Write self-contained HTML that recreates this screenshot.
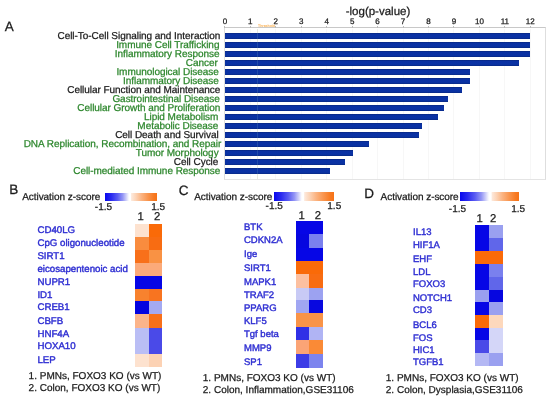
<!DOCTYPE html>
<html><head><meta charset="utf-8"><style>
*{margin:0;padding:0;box-sizing:border-box}
html,body{width:550px;height:400px;background:#fff;overflow:hidden;position:relative}
body{text-rendering:geometricPrecision;font-family:"Liberation Sans",Arial,sans-serif;color:#1a1a1a}
.t{position:absolute;white-space:nowrap;line-height:1;-webkit-text-stroke:0.25px}
.tick{position:absolute;top:25.8px;width:1px;height:2px;background:#bbb}
.box{position:absolute;left:224.3px;top:27px;width:321.6px;height:152.8px;border:1px solid #dedede;border-top:1.5px solid #c8c8c8;border-bottom:1px solid #e4e4e4}
.grid{position:absolute;top:28.5px;height:150.5px;width:1px;background:#f7f7f7}
.thr{position:absolute;top:28.5px;height:150.5px;width:1px;background:#fcf3e6}
.bar{position:absolute;left:224.90px;height:6.35px;background:linear-gradient(#082780 0%,#0a31a3 22%,#0a32a4 72%,#082985 100%)}
.lbl{position:absolute;font-size:10px;line-height:10px;white-space:nowrap;letter-spacing:-0.045px;-webkit-text-stroke:0.25px}
.cb{position:absolute}
.cell{position:absolute}
.gl{color:#2e2ed2;-webkit-text-stroke:0.4px}
</style></head><body>
<div class="box"></div>
<div class="t" style="left:4.80px;top:20.00px;font-size:13.5px;">A</div>
<div class="t" style="left:378.00px;top:7.00px;font-size:11.5px;transform:translateX(-50%);">-log(p-value)</div>
<div class="t" style="left:224.90px;top:18.00px;font-size:8px;transform:translateX(-50%);">0</div>
<div class="tick" style="left:224.40px"></div>
<div class="t" style="left:250.35px;top:18.00px;font-size:8px;transform:translateX(-50%);">1</div>
<div class="tick" style="left:249.85px"></div>
<div class="t" style="left:275.80px;top:18.00px;font-size:8px;transform:translateX(-50%);">2</div>
<div class="tick" style="left:275.30px"></div>
<div class="t" style="left:301.25px;top:18.00px;font-size:8px;transform:translateX(-50%);">3</div>
<div class="tick" style="left:300.75px"></div>
<div class="t" style="left:326.70px;top:18.00px;font-size:8px;transform:translateX(-50%);">4</div>
<div class="tick" style="left:326.20px"></div>
<div class="t" style="left:352.15px;top:18.00px;font-size:8px;transform:translateX(-50%);">5</div>
<div class="tick" style="left:351.65px"></div>
<div class="t" style="left:377.60px;top:18.00px;font-size:8px;transform:translateX(-50%);">6</div>
<div class="tick" style="left:377.10px"></div>
<div class="t" style="left:403.05px;top:18.00px;font-size:8px;transform:translateX(-50%);">7</div>
<div class="tick" style="left:402.55px"></div>
<div class="t" style="left:428.50px;top:18.00px;font-size:8px;transform:translateX(-50%);">8</div>
<div class="tick" style="left:428.00px"></div>
<div class="t" style="left:453.95px;top:18.00px;font-size:8px;transform:translateX(-50%);">9</div>
<div class="tick" style="left:453.45px"></div>
<div class="t" style="left:479.40px;top:18.00px;font-size:8px;transform:translateX(-50%);">10</div>
<div class="tick" style="left:478.90px"></div>
<div class="t" style="left:504.85px;top:18.00px;font-size:8px;transform:translateX(-50%);">11</div>
<div class="tick" style="left:504.35px"></div>
<div class="t" style="left:530.30px;top:18.00px;font-size:8px;transform:translateX(-50%);">12</div>
<div class="tick" style="left:529.80px"></div>
<div class="grid" style="left:249.85px"></div>
<div class="grid" style="left:275.30px"></div>
<div class="grid" style="left:300.75px"></div>
<div class="grid" style="left:326.20px"></div>
<div class="grid" style="left:351.65px"></div>
<div class="grid" style="left:377.10px"></div>
<div class="grid" style="left:402.55px"></div>
<div class="grid" style="left:428.00px"></div>
<div class="grid" style="left:453.45px"></div>
<div class="grid" style="left:478.90px"></div>
<div class="grid" style="left:504.35px"></div>
<div class="grid" style="left:529.80px"></div>
<div class="thr" style="left:257.49px"></div>
<div class="t" style="left:258.29px;top:23.9px;font-size:7px;font-weight:bold;color:#f9c078;transform:scale(0.5);transform-origin:0 0">Threshold</div>
<div class="bar" style="top:32.70px;width:305.15px"></div>
<div class="lbl" style="top:32.00px;right:329.70px;color:#1a1a1a">Cell-To-Cell Signaling and Interaction</div>
<div class="bar" style="top:41.70px;width:305.15px"></div>
<div class="lbl" style="top:41.00px;right:330.60px;color:#2c862c">Immune Cell Trafficking</div>
<div class="bar" style="top:50.70px;width:305.15px"></div>
<div class="lbl" style="top:50.00px;right:330.60px;color:#2c862c">Inflammatory Response</div>
<div class="bar" style="top:59.70px;width:294.46px"></div>
<div class="lbl" style="top:59.00px;right:332.20px;color:#2c862c">Cancer</div>
<div class="bar" style="top:68.70px;width:245.08px"></div>
<div class="lbl" style="top:68.00px;right:331.20px;color:#2c862c">Immunological Disease</div>
<div class="bar" style="top:77.70px;width:245.08px"></div>
<div class="lbl" style="top:77.00px;right:331.20px;color:#2c862c">Inflammatory Disease</div>
<div class="bar" style="top:86.70px;width:236.94px"></div>
<div class="lbl" style="top:86.00px;right:329.70px;color:#1a1a1a">Cellular Function and Maintenance</div>
<div class="bar" style="top:95.70px;width:222.69px"></div>
<div class="lbl" style="top:95.00px;right:330.30px;color:#2c862c">Gastrointestinal Disease</div>
<div class="bar" style="top:104.70px;width:218.87px"></div>
<div class="lbl" style="top:104.00px;right:329.70px;color:#2c862c">Cellular Growth and Proliferation</div>
<div class="bar" style="top:113.70px;width:213.27px"></div>
<div class="lbl" style="top:113.00px;right:331.70px;color:#2c862c">Lipid Metabolism</div>
<div class="bar" style="top:122.70px;width:196.98px"></div>
<div class="lbl" style="top:122.00px;right:331.70px;color:#2c862c">Metabolic Disease</div>
<div class="bar" style="top:131.70px;width:193.67px"></div>
<div class="lbl" style="top:131.00px;right:331.40px;color:#1a1a1a">Cell Death and Survival</div>
<div class="bar" style="top:140.70px;width:143.79px"></div>
<div class="lbl" style="top:140.00px;right:328.70px;color:#2c862c">DNA Replication, Recombination, and Repair</div>
<div class="bar" style="top:149.70px;width:127.76px"></div>
<div class="lbl" style="top:149.00px;right:331.40px;color:#2c862c">Tumor Morphology</div>
<div class="bar" style="top:158.70px;width:120.12px"></div>
<div class="lbl" style="top:158.00px;right:331.70px;color:#1a1a1a">Cell Cycle</div>
<div class="bar" style="top:167.70px;width:105.11px"></div>
<div class="lbl" style="top:167.00px;right:329.70px;color:#2c862c">Cell-mediated Immune Response</div>
<div class="thr" style="left:257.49px;background:rgba(140,190,200,0.18)"></div>
<div class="t" style="left:9.30px;top:183.00px;font-size:13.5px;">B</div>
<div class="t" style="left:22.20px;top:193.00px;font-size:10px;letter-spacing:-0.05px;">Activation z-score</div>
<div class="cb" style="left:105px;top:192.5px;width:52px;height:8.2px;background:linear-gradient(to right,#0808ee 0.0%,#2a2af0 12.0%,#5a5cf2 24.0%,#9496f5 34.0%,#cfd0f9 41.0%,#f4f4fd 45.0%,#fff 46.5%,#fff 50.0%,#fde9dc 51.0%,#fcd2b4 60.0%,#fbb482 70.0%,#f99650 82.0%,#f77a22 94.0%,#f77216 100.0%)"></div>
<div class="t" style="left:94.80px;top:203.00px;font-size:10px;">-1.5</div>
<div class="t" style="left:151.20px;top:203.00px;font-size:10px;">1.5</div>
<div class="t" style="left:140.55px;top:212.00px;font-size:11.3px;transform:translateX(-50%);">1</div>
<div class="t" style="left:157.05px;top:212.00px;font-size:11.3px;transform:translateX(-50%);">2</div>
<div class="cell" style="left:135.1px;top:223.60px;width:13.7px;height:13.30px;background:#fde2cf"></div>
<div class="cell" style="left:148.79999999999998px;top:223.60px;width:13.7px;height:13.30px;background:#fa6a08"></div>
<div class="t gl" style="left:37.40px;top:226.00px;font-size:9.7px;">CD40LG</div>
<div class="cell" style="left:135.1px;top:236.60px;width:13.7px;height:13.30px;background:#f98c3e"></div>
<div class="cell" style="left:148.79999999999998px;top:236.60px;width:13.7px;height:13.30px;background:#f86c12"></div>
<div class="t gl" style="left:37.40px;top:239.00px;font-size:9.7px;">CpG oligonucleotide</div>
<div class="cell" style="left:135.1px;top:249.60px;width:13.7px;height:13.30px;background:#f8701a"></div>
<div class="cell" style="left:148.79999999999998px;top:249.60px;width:13.7px;height:13.30px;background:#f99244"></div>
<div class="t gl" style="left:37.40px;top:252.00px;font-size:9.7px;">SIRT1</div>
<div class="cell" style="left:135.1px;top:262.60px;width:13.7px;height:13.30px;background:#fbaa7a"></div>
<div class="cell" style="left:148.79999999999998px;top:262.60px;width:13.7px;height:13.30px;background:#fbaa7a"></div>
<div class="t gl" style="left:37.40px;top:265.00px;font-size:9.7px;">eicosapentenoic acid</div>
<div class="cell" style="left:135.1px;top:275.60px;width:13.7px;height:13.30px;background:#0606e6"></div>
<div class="cell" style="left:148.79999999999998px;top:275.60px;width:13.7px;height:13.30px;background:#0606e6"></div>
<div class="t gl" style="left:37.40px;top:278.00px;font-size:9.7px;">NUPR1</div>
<div class="cell" style="left:135.1px;top:288.60px;width:13.7px;height:12.40px;background:#f8822e"></div>
<div class="cell" style="left:148.79999999999998px;top:288.60px;width:13.7px;height:12.40px;background:#f87420"></div>
<div class="t gl" style="left:37.40px;top:291.00px;font-size:9.7px;">ID1</div>
<div class="cell" style="left:135.1px;top:300.70px;width:13.7px;height:13.80px;background:#0404e0"></div>
<div class="cell" style="left:148.79999999999998px;top:300.70px;width:13.7px;height:13.80px;background:#a4aaf2"></div>
<div class="t gl" style="left:37.40px;top:303.00px;font-size:9.7px;">CREB1</div>
<div class="cell" style="left:135.1px;top:314.20px;width:13.7px;height:13.80px;background:#fbb48a"></div>
<div class="cell" style="left:148.79999999999998px;top:314.20px;width:13.7px;height:13.80px;background:#f8701a"></div>
<div class="t gl" style="left:37.40px;top:317.00px;font-size:9.7px;">CBFB</div>
<div class="cell" style="left:135.1px;top:327.70px;width:13.7px;height:13.40px;background:#babef5"></div>
<div class="cell" style="left:148.79999999999998px;top:327.70px;width:13.7px;height:13.40px;background:#4a4ae8"></div>
<div class="t gl" style="left:37.40px;top:330.00px;font-size:9.7px;">HNF4A</div>
<div class="cell" style="left:135.1px;top:340.80px;width:13.7px;height:13.40px;background:#babef5"></div>
<div class="cell" style="left:148.79999999999998px;top:340.80px;width:13.7px;height:13.40px;background:#4a4ae8"></div>
<div class="t gl" style="left:37.40px;top:342.00px;font-size:9.7px;">HOXA10</div>
<div class="cell" style="left:135.1px;top:353.90px;width:13.7px;height:13.10px;background:#fde2cf"></div>
<div class="cell" style="left:148.79999999999998px;top:353.90px;width:13.7px;height:13.10px;background:#fcd2b4"></div>
<div class="t gl" style="left:37.40px;top:356.00px;font-size:9.7px;">LEP</div>
<div class="t" style="left:28.60px;top:372.00px;font-size:10px;">1. PMNs, FOXO3 KO (vs WT)</div>
<div class="t" style="left:28.60px;top:384.00px;font-size:10px;">2. Colon, FOXO3 KO (vs WT)</div>
<div class="t" style="left:178.80px;top:184.00px;font-size:13.5px;">C</div>
<div class="t" style="left:194.20px;top:193.00px;font-size:10px;letter-spacing:-0.05px;">Activation z-score</div>
<div class="cb" style="left:273.8px;top:192px;width:60.7px;height:8.8px;background:linear-gradient(to right,#0808ee 0.0%,#2a2af0 12.0%,#5a5cf2 24.0%,#9496f5 34.0%,#cfd0f9 41.0%,#f4f4fd 45.0%,#fff 46.5%,#fff 50.0%,#fde9dc 51.0%,#fcd2b4 60.0%,#fbb482 70.0%,#f99650 82.0%,#f77a22 94.0%,#f77216 100.0%)"></div>
<div class="t" style="left:265.60px;top:202.00px;font-size:10px;">-1.5</div>
<div class="t" style="left:327.30px;top:202.00px;font-size:10px;">1.5</div>
<div class="t" style="left:301.55px;top:211.00px;font-size:11.3px;transform:translateX(-50%);">1</div>
<div class="t" style="left:317.95px;top:211.00px;font-size:11.3px;transform:translateX(-50%);">2</div>
<div class="cell" style="left:295.5px;top:221.30px;width:13.5px;height:13.20px;background:#0606e6"></div>
<div class="cell" style="left:309.0px;top:221.30px;width:13.5px;height:13.20px;background:#0606e6"></div>
<div class="t gl" style="left:244.00px;top:223.00px;font-size:9.5px;">BTK</div>
<div class="cell" style="left:295.5px;top:234.20px;width:13.5px;height:13.60px;background:#0606e0"></div>
<div class="cell" style="left:309.0px;top:234.20px;width:13.5px;height:13.60px;background:#7a80ee"></div>
<div class="t gl" style="left:244.00px;top:236.00px;font-size:9.5px;">CDKN2A</div>
<div class="cell" style="left:295.5px;top:247.50px;width:13.5px;height:13.60px;background:#0606e6"></div>
<div class="cell" style="left:309.0px;top:247.50px;width:13.5px;height:13.60px;background:#0606e6"></div>
<div class="t gl" style="left:244.00px;top:250.00px;font-size:9.5px;">Ige</div>
<div class="cell" style="left:295.5px;top:260.80px;width:13.5px;height:13.70px;background:#fa6a08"></div>
<div class="cell" style="left:309.0px;top:260.80px;width:13.5px;height:13.70px;background:#fa6a08"></div>
<div class="t gl" style="left:244.00px;top:264.00px;font-size:9.5px;">SIRT1</div>
<div class="cell" style="left:295.5px;top:274.20px;width:13.5px;height:13.60px;background:#fcc0a0"></div>
<div class="cell" style="left:309.0px;top:274.20px;width:13.5px;height:13.60px;background:#f86c12"></div>
<div class="t gl" style="left:244.00px;top:278.00px;font-size:9.5px;">MAPK1</div>
<div class="cell" style="left:295.5px;top:287.50px;width:13.5px;height:13.10px;background:#c8caf5"></div>
<div class="cell" style="left:309.0px;top:287.50px;width:13.5px;height:13.10px;background:#9ca2f1"></div>
<div class="t gl" style="left:244.00px;top:291.00px;font-size:9.5px;">TRAF2</div>
<div class="cell" style="left:295.5px;top:300.30px;width:13.5px;height:13.30px;background:#a0a6f2"></div>
<div class="cell" style="left:309.0px;top:300.30px;width:13.5px;height:13.30px;background:#0808e0"></div>
<div class="t gl" style="left:244.00px;top:304.00px;font-size:9.5px;">PPARG</div>
<div class="cell" style="left:295.5px;top:313.30px;width:13.5px;height:13.80px;background:#f99448"></div>
<div class="cell" style="left:309.0px;top:313.30px;width:13.5px;height:13.80px;background:#f99448"></div>
<div class="t gl" style="left:244.00px;top:317.00px;font-size:9.5px;">KLF5</div>
<div class="cell" style="left:295.5px;top:326.80px;width:13.5px;height:13.80px;background:#3030e6"></div>
<div class="cell" style="left:309.0px;top:326.80px;width:13.5px;height:13.80px;background:#b0b4f4"></div>
<div class="t gl" style="left:244.00px;top:330.00px;font-size:9.5px;">Tgf beta</div>
<div class="cell" style="left:295.5px;top:340.30px;width:13.5px;height:13.80px;background:#fba476"></div>
<div class="cell" style="left:309.0px;top:340.30px;width:13.5px;height:13.80px;background:#fa8a36"></div>
<div class="t gl" style="left:244.00px;top:344.00px;font-size:9.5px;">MMP9</div>
<div class="cell" style="left:295.5px;top:353.80px;width:13.5px;height:13.80px;background:#3c3ce6"></div>
<div class="cell" style="left:309.0px;top:353.80px;width:13.5px;height:13.80px;background:#7c84ee"></div>
<div class="t gl" style="left:244.00px;top:358.00px;font-size:9.5px;">SP1</div>
<div class="t" style="left:202.80px;top:374.00px;font-size:10px;">1. PMNs, FOXO3 KO (vs WT)</div>
<div class="t" style="left:202.80px;top:386.00px;font-size:10px;">2. Colon, Inflammation,GSE31106</div>
<div class="t" style="left:364.20px;top:187.00px;font-size:13.5px;">D</div>
<div class="t" style="left:380.60px;top:193.00px;font-size:10px;letter-spacing:-0.05px;">Activation z-score</div>
<div class="cb" style="left:460.2px;top:192px;width:59.2px;height:8.6px;background:linear-gradient(to right,#0808ee 0.0%,#2a2af0 12.8%,#5a5cf2 25.5%,#9496f5 36.2%,#cfd0f9 43.6%,#f4f4fd 47.9%,#fff 49.5%,#fff 53.0%,#fde9dc 54.0%,#fcd2b4 62.4%,#fbb482 71.8%,#f99650 83.1%,#f77a22 94.4%,#f77216 100.0%)"></div>
<div class="t" style="left:448.80px;top:205.00px;font-size:10px;">-1.5</div>
<div class="t" style="left:511.20px;top:205.00px;font-size:10px;">1.5</div>
<div class="t" style="left:479.70px;top:214.00px;font-size:11.3px;transform:translateX(-50%);">1</div>
<div class="t" style="left:493.10px;top:214.00px;font-size:11.3px;transform:translateX(-50%);">2</div>
<div class="cell" style="left:475.1px;top:225.00px;width:13.8px;height:12.90px;background:#0606e6"></div>
<div class="cell" style="left:488.90000000000003px;top:225.00px;width:13.8px;height:12.90px;background:#9aa0f0"></div>
<div class="t gl" style="left:413.00px;top:228.00px;font-size:9.5px;">IL13</div>
<div class="cell" style="left:475.1px;top:237.60px;width:13.8px;height:13.70px;background:#0606e6"></div>
<div class="cell" style="left:488.90000000000003px;top:237.60px;width:13.8px;height:13.70px;background:#6066ea"></div>
<div class="t gl" style="left:413.00px;top:241.00px;font-size:9.5px;">HIF1A</div>
<div class="cell" style="left:475.1px;top:251.00px;width:13.8px;height:13.30px;background:#fa6a08"></div>
<div class="cell" style="left:488.90000000000003px;top:251.00px;width:13.8px;height:13.30px;background:#fa6a08"></div>
<div class="t gl" style="left:413.00px;top:255.00px;font-size:9.5px;">EHF</div>
<div class="cell" style="left:475.1px;top:264.00px;width:13.8px;height:12.90px;background:#0606e6"></div>
<div class="cell" style="left:488.90000000000003px;top:264.00px;width:13.8px;height:12.90px;background:#7a80ee"></div>
<div class="t gl" style="left:413.00px;top:268.00px;font-size:9.5px;">LDL</div>
<div class="cell" style="left:475.1px;top:276.60px;width:13.8px;height:13.40px;background:#0606e6"></div>
<div class="cell" style="left:488.90000000000003px;top:276.60px;width:13.8px;height:13.40px;background:#6066ea"></div>
<div class="t gl" style="left:413.00px;top:280.00px;font-size:9.5px;">FOXO3</div>
<div class="cell" style="left:475.1px;top:289.70px;width:13.8px;height:13.00px;background:#9aa0f0"></div>
<div class="cell" style="left:488.90000000000003px;top:289.70px;width:13.8px;height:13.00px;background:#0606e0"></div>
<div class="t gl" style="left:413.00px;top:294.00px;font-size:9.5px;">NOTCH1</div>
<div class="cell" style="left:475.1px;top:302.40px;width:13.8px;height:12.70px;background:#0606e6"></div>
<div class="cell" style="left:488.90000000000003px;top:302.40px;width:13.8px;height:12.70px;background:#9aa0f0"></div>
<div class="t gl" style="left:413.00px;top:306.00px;font-size:9.5px;">CD3</div>
<div class="cell" style="left:475.1px;top:314.80px;width:13.8px;height:13.10px;background:#fa6a08"></div>
<div class="cell" style="left:488.90000000000003px;top:314.80px;width:13.8px;height:13.10px;background:#fdd8bc"></div>
<div class="t gl" style="left:413.00px;top:321.00px;font-size:9.5px;">BCL6</div>
<div class="cell" style="left:475.1px;top:327.60px;width:13.8px;height:12.60px;background:#0606e6"></div>
<div class="cell" style="left:488.90000000000003px;top:327.60px;width:13.8px;height:12.60px;background:#d4d6f8"></div>
<div class="t gl" style="left:413.00px;top:334.00px;font-size:9.5px;">FOS</div>
<div class="cell" style="left:475.1px;top:339.90px;width:13.8px;height:13.10px;background:#4a4ae8"></div>
<div class="cell" style="left:488.90000000000003px;top:339.90px;width:13.8px;height:13.10px;background:#d4d6f8"></div>
<div class="t gl" style="left:413.00px;top:346.00px;font-size:9.5px;">HIC1</div>
<div class="cell" style="left:475.1px;top:352.70px;width:13.8px;height:13.00px;background:#b4b8f4"></div>
<div class="cell" style="left:488.90000000000003px;top:352.70px;width:13.8px;height:13.00px;background:#9aa0f0"></div>
<div class="t gl" style="left:413.00px;top:358.00px;font-size:9.5px;">TGFB1</div>
<div class="t" style="left:385.80px;top:374.00px;font-size:10px;">1. PMNs, FOXO3 KO (vs WT)</div>
<div class="t" style="left:385.80px;top:386.00px;font-size:10px;">2. Colon, Dysplasia,GSE31106</div>
</body></html>
